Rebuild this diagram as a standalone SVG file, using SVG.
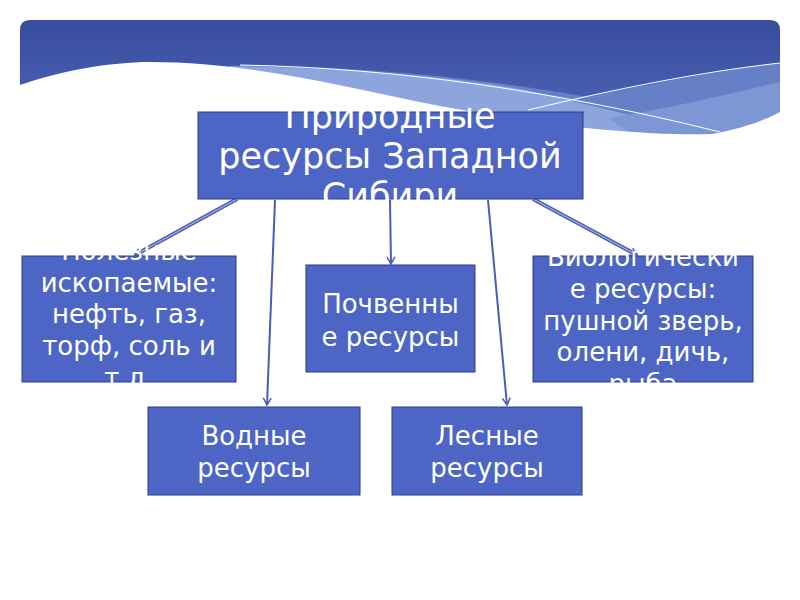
<svg xmlns="http://www.w3.org/2000/svg" width="800" height="600" viewBox="0 0 800 600">
<defs>
<linearGradient id="bg" x1="0" y1="0" x2="0" y2="1">
<stop offset="0" stop-color="#384c9d"/>
<stop offset="0.5" stop-color="#4a61b3"/>
<stop offset="1" stop-color="#6a84cc"/>
</linearGradient>
<clipPath id="bc"><path d="M20,30 Q20,20 30,20 L770,20 Q780,20 780,30 L780,200 L20,200 Z"/></clipPath>
<marker id="ah" markerWidth="10" markerHeight="10" refX="8" refY="5" orient="auto" markerUnits="userSpaceOnUse">
<path d="M1,1 L8,5 L1,9" fill="none" stroke="#4a5cb8" stroke-width="1.5"/>
</marker>
<style>
.box{fill:#4d65c5;stroke:#2c3d86;stroke-width:1}
.t{fill:#ffffff;font-family:"DejaVu Sans","Noto Sans",sans-serif;text-anchor:middle}
.t1{font-size:35px}
.t2{font-size:26px}
.c{fill:none;stroke:#4a5cb8;stroke-width:2}
.cw{fill:none;stroke:#4a5cb8;stroke-width:4}
.ci{fill:none;stroke:#a5b2e2;stroke-width:1.2}
</style>
</defs>
<g id="banner">
<g clip-path="url(#bc)">
<rect x="20" y="20" width="760" height="180" fill="url(#bg)"/>
<path d="M240,65 C 400,68 500,82 587,97 C 650,84 720,70 780,63 L780,130 L700,145 L240,80 Z" fill="#6580c7"/>
<path d="M230,66 C 380,69 470,80 525,90 C 590,104 660,124 720,136 L600,150 L230,80 Z" fill="#8ca5dc"/>
<path d="M608,118 C 660,110 720,96 780,82 L780,140 L640,140 Z" fill="#7d97d5"/>
<path d="M240,65 C 400,68 560,92 720,132" fill="none" stroke="#ffffff" stroke-width="1"/>
<path d="M528,110 C 620,88 700,72 780,63" fill="none" stroke="#ffffff" stroke-width="1"/>
</g>
<path d="M0,95 L20,85 C 60,71 110,62 150,62 C 250,62 340,86 440,106 C 550,126 640,136 712,134 C 745,128 765,120 780,112 L800,105 L800,230 L0,230 Z" fill="#ffffff"/>
</g>
<g id="connectors">
<path class="cw" d="M237,199 L135,255"/>
<path class="ci" d="M237,199 L135,255" marker-end="url(#ah)"/>
<path class="c" d="M275,200 L267,405" marker-end="url(#ah)"/>
<path class="c" d="M390,200 L391,264" marker-end="url(#ah)"/>
<path class="c" d="M488,200 L507,405" marker-end="url(#ah)"/>
<path class="cw" d="M533,199 L637,255"/>
<path class="ci" d="M533,199 L637,255" marker-end="url(#ah)"/>
</g>
<g id="n-main">
<rect class="box" x="198" y="112" width="385" height="87"/>
<text class="t t1" x="390" y="128">Природные</text>
<text class="t t1" x="390" y="168">ресурсы Западной</text>
<text class="t t1" x="390" y="208">Сибири</text>
</g>
<g id="n-minerals">
<rect class="box" x="22" y="256" width="214" height="126"/>
<text class="t t2" x="129" y="260">Полезные</text>
<text class="t t2" x="129" y="292">ископаемые:</text>
<text class="t t2" x="129" y="323">нефть, газ,</text>
<text class="t t2" x="129" y="355">торф, соль и</text>
<text class="t t2" x="129" y="387">т.д.</text>
</g>
<g id="n-soil">
<rect class="box" x="306" y="265" width="169" height="107"/>
<text class="t t2" x="390.5" y="313">Почвенны</text>
<text class="t t2" x="390.5" y="346">е ресурсы</text>
</g>
<g id="n-bio">
<rect class="box" x="533" y="256" width="220" height="126"/>
<text class="t t2" x="643" y="266">Биологически</text>
<text class="t t2" x="643" y="298">е ресурсы:</text>
<text class="t t2" x="643" y="330">пушной зверь,</text>
<text class="t t2" x="643" y="361">олени, дичь,</text>
<text class="t t2" x="643" y="393">рыба</text>
</g>
<g id="n-water">
<rect class="box" x="148" y="407" width="212" height="88"/>
<text class="t t2" x="254" y="445">Водные</text>
<text class="t t2" x="254" y="477">ресурсы</text>
</g>
<g id="n-forest">
<rect class="box" x="392" y="407" width="190" height="88"/>
<text class="t t2" x="487" y="445">Лесные</text>
<text class="t t2" x="487" y="477">ресурсы</text>
</g>
</svg>
